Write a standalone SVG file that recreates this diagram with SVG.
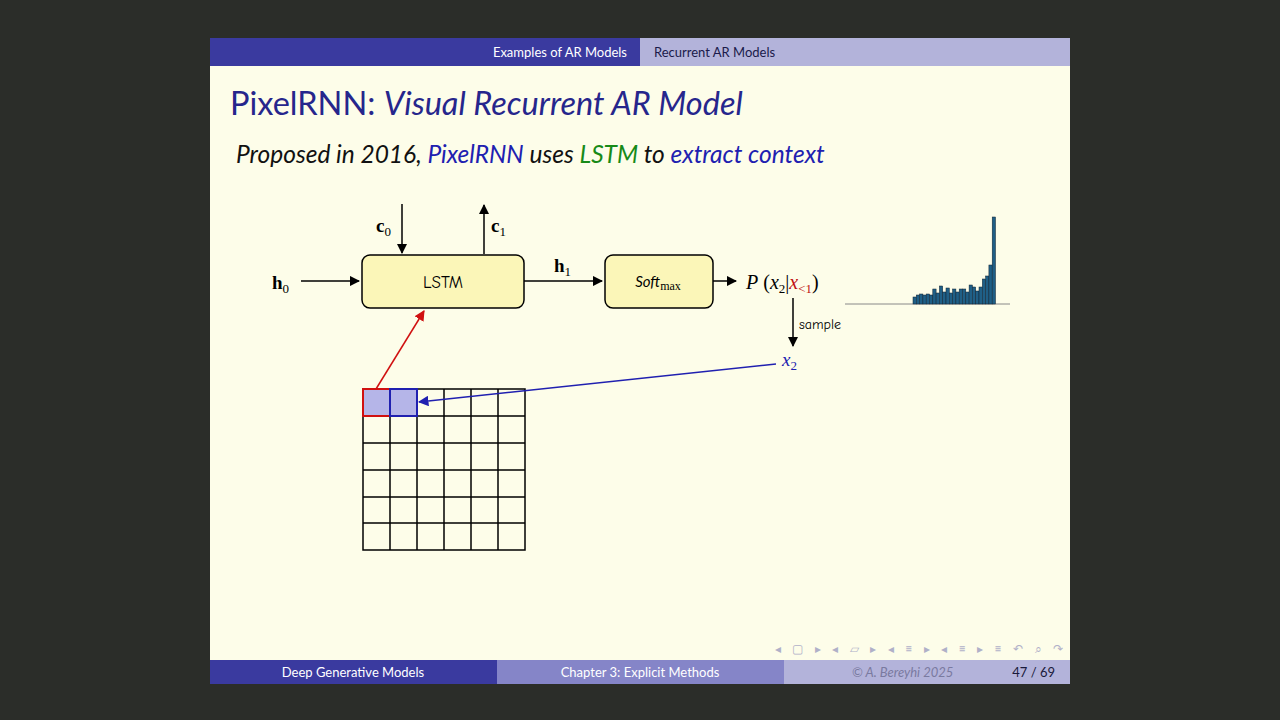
<svg xmlns="http://www.w3.org/2000/svg" width="1280" height="720" viewBox="0 0 1280 720">
<defs>
<style>
.s{font-family:Lato,"Open Sans",sans-serif}
.m{font-family:"Liberation Serif",serif}
.box{fill:#fbf6b8;stroke:#000;stroke-width:1.5}
.ln{stroke:#000;stroke-width:1.5;fill:none}
.g{fill:none;stroke:#000;stroke-width:1.5}
</style>
<marker id="a" viewBox="0 0 10 10" refX="9" refY="5" markerWidth="7" markerHeight="7" orient="auto"><path d="M0,0 L10,5 L0,10 z" fill="#000"/></marker>
<marker id="ar" viewBox="0 0 10 10" refX="9" refY="5" markerWidth="7" markerHeight="7" orient="auto"><path d="M0,0 L10,5 L0,10 z" fill="#d01010"/></marker>
<marker id="ab" viewBox="0 0 10 10" refX="9" refY="5" markerWidth="7" markerHeight="7" orient="auto"><path d="M0,0 L10,5 L0,10 z" fill="#2020b0"/></marker>
</defs>
<rect width="1280" height="720" fill="#2b2d29"/>
<rect x="210" y="38" width="860" height="646" fill="#fdfde9"/>
<rect x="210" y="38" width="430" height="28" fill="#3a3a9f"/>
<rect x="640" y="38" width="430" height="28" fill="#b3b3da"/>
<text x="627" y="57" class="s" font-size="13" fill="#fff" text-anchor="end">Examples of AR Models</text>
<text x="654" y="57" class="s" font-size="13" fill="#1a1a4a">Recurrent AR Models</text>
<rect x="210" y="660" width="287" height="24" fill="#3a3a9f"/>
<rect x="497" y="660" width="287" height="24" fill="#8585c8"/>
<rect x="784" y="660" width="286" height="24" fill="#b3b3da"/>
<text x="353" y="677" class="s" font-size="13" fill="#fff" text-anchor="middle">Deep Generative Models</text>
<text x="640" y="677" class="s" font-size="13" fill="#fff" text-anchor="middle">Chapter 3: Explicit Methods</text>
<text x="852" y="677" class="s" font-size="13" fill="#7a7aa0" font-style="italic">© A. Bereyhi 2025</text>
<text x="1055" y="677" class="s" font-size="13" fill="#1a1a3a" text-anchor="end">47 / 69</text>
<text x="775" y="653" class="s" font-size="12" fill="#b0b0c8" textLength="288" lengthAdjust="spacing">◂ ▢ ▸  ◂ ▱ ▸  ◂ ≡ ▸  ◂ ≡ ▸    ≡    ↶ ⌕ ↷</text>
<text x="230" y="115" class="s" font-size="32.5" fill="#26268c">PixelRNN: <tspan font-style="italic">Visual Recurrent AR Model</tspan></text>
<text x="236" y="163" class="s" font-size="24.5" font-style="italic" fill="#111">Proposed in 2016, <tspan fill="#2020b0">PixelRNN</tspan> uses <tspan fill="#178a17">LSTM</tspan> to <tspan fill="#2020b0">extract context</tspan></text>

<g id="lstm"><rect class="box" x="362" y="255" width="162" height="53" rx="8"/><text x="443" y="288" font-family="'Comic Neue','DejaVu Sans',sans-serif" font-size="17" text-anchor="middle">LSTM</text></g>
<g id="softmax"><rect class="box" x="605" y="255" width="108" height="53" rx="8"/><text x="658" y="287" class="s" font-size="15" font-style="italic" text-anchor="middle">Soft<tspan class="m" font-style="normal" font-size="12" dy="3">max</tspan></text></g>
<g id="h0"><text x="272" y="289" class="m" font-size="19" font-weight="bold">h<tspan font-weight="normal" font-size="13" dy="4">0</tspan></text></g>
<g id="c0"><text x="376" y="232" class="m" font-size="19" font-weight="bold">c<tspan font-weight="normal" font-size="13" dy="4">0</tspan></text></g>
<g id="c1"><text x="491" y="232" class="m" font-size="19" font-weight="bold">c<tspan font-weight="normal" font-size="13" dy="4">1</tspan></text></g>
<g id="h1"><text x="554" y="272" class="m" font-size="19" font-weight="bold">h<tspan font-weight="normal" font-size="13" dy="4">1</tspan></text></g>
<g id="p"><text x="746" y="289" class="m" font-size="20"><tspan font-style="italic">P</tspan> (<tspan font-style="italic">x</tspan><tspan font-size="13" dy="4">2</tspan><tspan dy="-4">|</tspan><tspan fill="#c01010" font-style="italic">x</tspan><tspan fill="#c01010" font-size="13" dy="4">&lt;1</tspan><tspan dy="-4">)</tspan></text></g>
<g id="x2"><text x="782" y="366" class="m" font-size="19" font-style="italic" fill="#2020b0">x<tspan font-style="normal" font-size="13" dy="4">2</tspan></text></g>
<g id="hist">
<line x1="845" y1="304" x2="1010" y2="304" stroke="#888" stroke-width="1"/>
<g fill="#1f5f86" stroke="#123" stroke-width="0.5">
<rect x="913" y="297" width="3.3" height="7"/><rect x="916.3" y="295" width="3.3" height="9"/><rect x="919.6" y="294" width="3.3" height="10"/><rect x="922.9" y="295" width="3.3" height="9"/><rect x="926.2" y="294" width="3.3" height="10"/><rect x="929.5" y="295" width="3.3" height="9"/><rect x="932.8" y="289" width="3.3" height="15"/><rect x="936.1" y="293" width="3.3" height="11"/><rect x="939.4" y="286" width="3.3" height="18"/><rect x="942.7" y="292" width="3.3" height="12"/><rect x="946" y="288" width="3.3" height="16"/><rect x="949.3" y="293" width="3.3" height="11"/><rect x="952.6" y="289" width="3.3" height="15"/><rect x="955.9" y="292" width="3.3" height="12"/><rect x="959.2" y="289" width="3.3" height="15"/><rect x="962.5" y="289" width="3.3" height="15"/><rect x="965.8" y="292" width="3.3" height="12"/><rect x="969.1" y="285" width="3.3" height="19"/><rect x="972.4" y="287" width="3.3" height="17"/><rect x="975.7" y="291" width="3.3" height="13"/><rect x="979" y="287" width="3.3" height="17"/><rect x="982.3" y="279" width="3.3" height="25"/><rect x="985.6" y="276" width="3.3" height="28"/><rect x="988.9" y="265" width="3.3" height="39"/><rect x="992.2" y="217" width="3.3" height="87"/>
</g></g>
<g id="grid">
<rect x="390" y="389" width="27" height="27" fill="#b5b5e8"/><rect x="363" y="389" width="27" height="27" fill="#b5b5e8"/>
<path class="g" d="M363,389H525V550H363Z M363,416H525 M363,443H525 M363,470H525 M363,497H525 M363,523H525 M390,389V550 M417,389V550 M444,389V550 M471,389V550 M498,389V550"/>
<rect x="363" y="389" width="27" height="27" fill="none" stroke="#d01010" stroke-width="2"/>
<rect x="390" y="389" width="27" height="27" fill="none" stroke="#2020b0" stroke-width="2"/>
</g>
<g id="connectors">
<line class="ln" x1="301" y1="281" x2="359" y2="281" marker-end="url(#a)"/>
<line class="ln" x1="402" y1="204" x2="402" y2="253" marker-end="url(#a)"/>
<line class="ln" x1="484" y1="254" x2="484" y2="205" marker-end="url(#a)"/>
<line class="ln" x1="524" y1="281" x2="602" y2="281" marker-end="url(#a)"/>
<line class="ln" x1="713" y1="281" x2="736" y2="281" marker-end="url(#a)"/>
<line class="ln" x1="793" y1="298" x2="793" y2="346" marker-end="url(#a)"/>
<line x1="376" y1="389" x2="424" y2="311" stroke="#d01010" stroke-width="1.5" marker-end="url(#ar)"/>
<line x1="776" y1="364" x2="419" y2="402" stroke="#2020b0" stroke-width="1.5" marker-end="url(#ab)"/>
</g>
<text x="799" y="329" font-family="'Comic Neue','DejaVu Sans',sans-serif" font-size="14">sample</text>
</svg>
